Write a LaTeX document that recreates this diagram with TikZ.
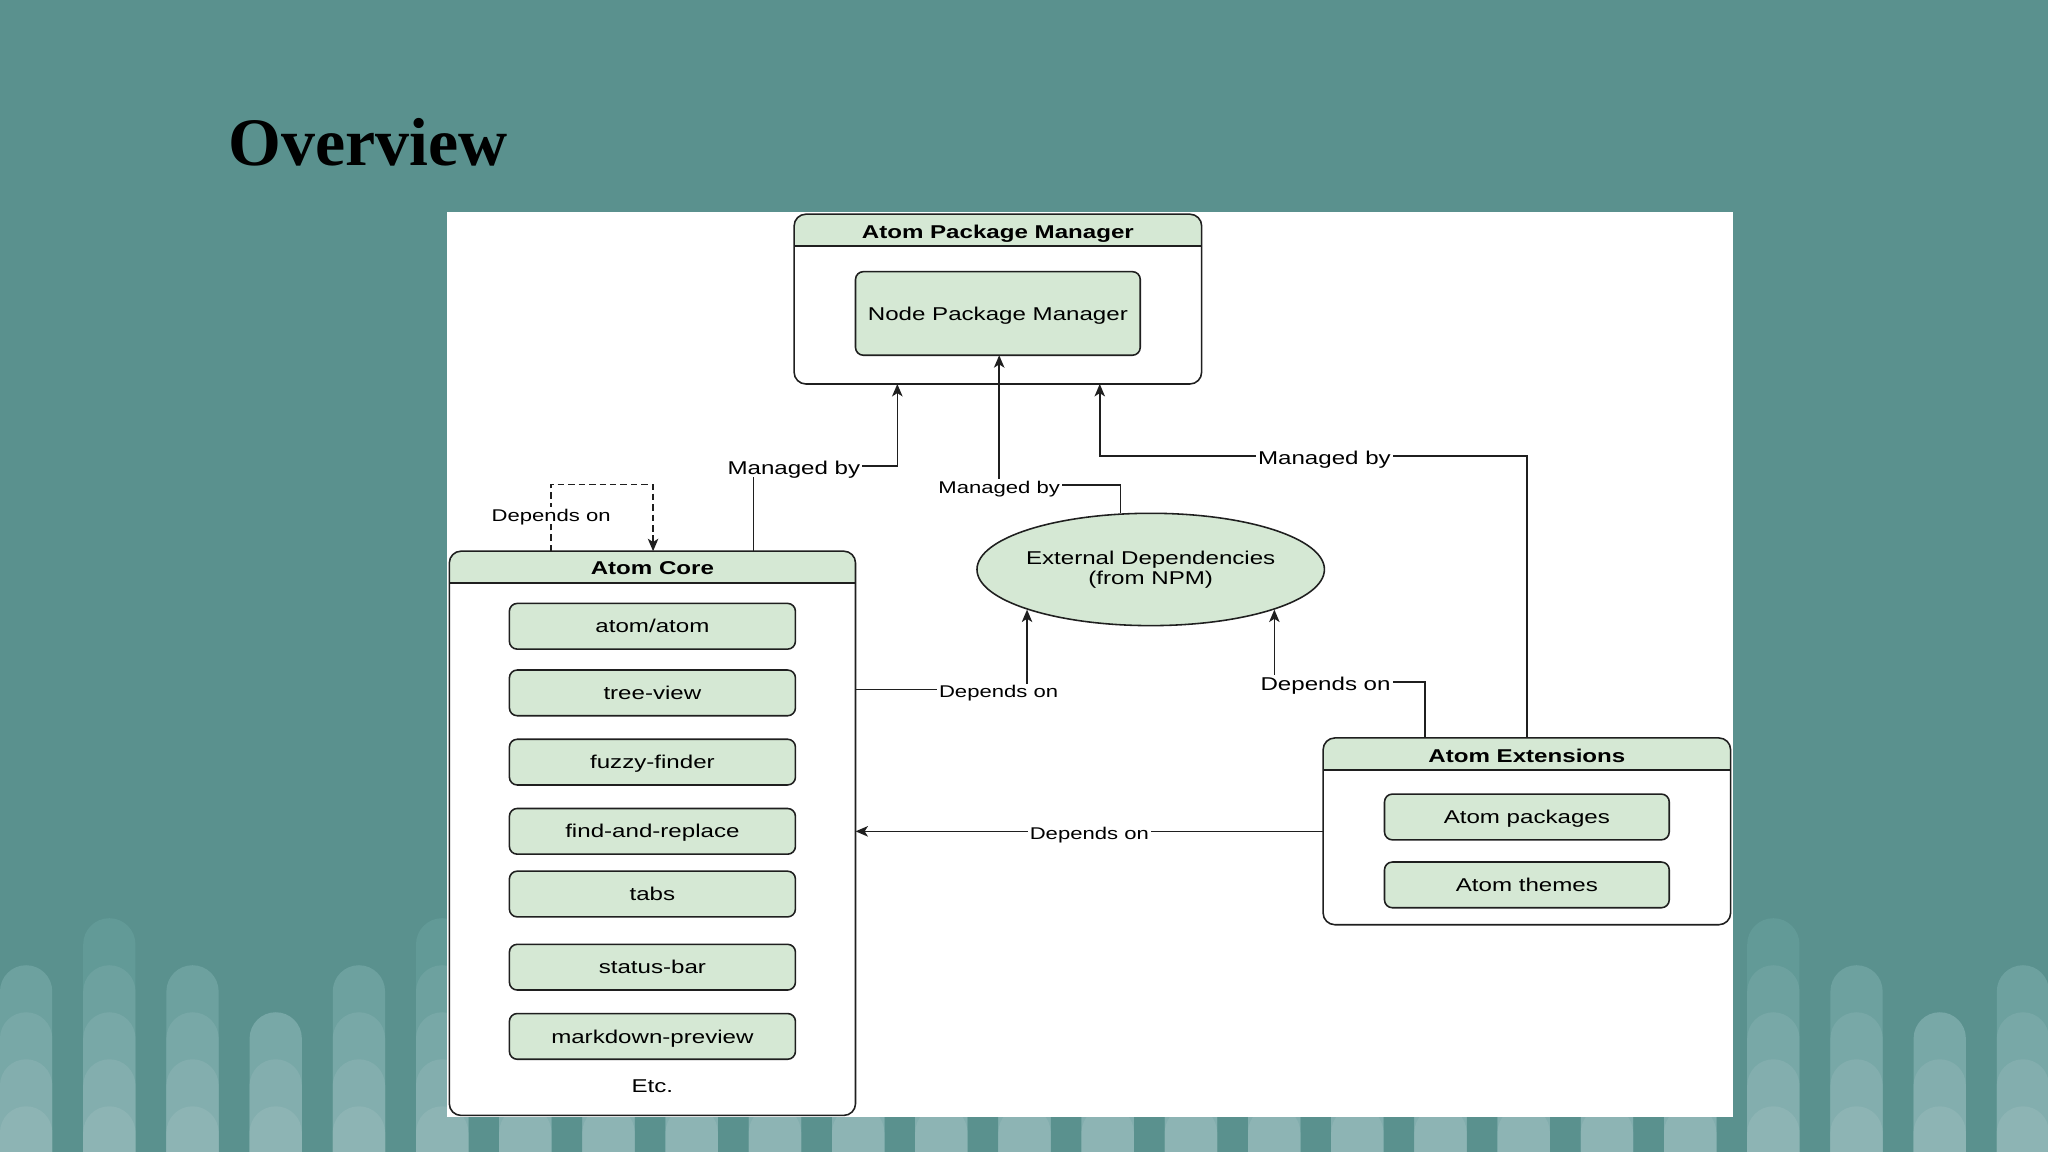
\documentclass[tikz,border=0pt]{standalone}
\usepackage{fontspec}
\usepackage{xcolor}
\usepackage{tikz}
\usetikzlibrary{arrows.meta, positioning, shapes.geometric}

\newfontfamily\diagfont[FakeStretch=1.3]{Liberation Sans}
\newfontfamily\titlefont{Liberation Serif}

\definecolor{slidebg}{HTML}{5A918E}
\definecolor{boxfill}{HTML}{D5E8D4}
\definecolor{edge}{HTML}{1F1F1F}
\definecolor{bar1}{HTML}{629A97}
\definecolor{bar2}{HTML}{6DA19F}
\definecolor{bar3}{HTML}{78A8A7}
\definecolor{bar4}{HTML}{83AEAE}
\definecolor{bar5}{HTML}{8DB4B4}

\begin{document}
\begin{tikzpicture}[
    x=1pt, y=1pt,
    lane/.style={
        draw=edge,
        fill=white,
        line width=1.2pt,
        rounded corners=9pt,
        minimum width=312pt,
        inner sep=0pt,
        outer sep=0pt,
        path picture={
            \fill[boxfill, sharp corners] (path picture bounding box.north west)
                rectangle ([yshift=-24.5pt]path picture bounding box.north east);
            \draw[edge, line width=1.2pt, sharp corners]
                ([yshift=-24.5pt]path picture bounding box.north west)
                -- ([yshift=-24.5pt]path picture bounding box.north east);
        }
    },
    lanehead/.style={
        anchor=base,
        font=\diagfont\bfseries\fontsize{14.2}{16}\selectfont,
        inner sep=0pt
    },
    item/.style={
        draw=edge,
        fill=boxfill,
        line width=1.2pt,
        rounded corners=6pt,
        minimum width=219pt,
        minimum height=35pt,
        outer sep=0pt,
        text height=10.2pt,
        text depth=0pt,
        font=\diagfont\fontsize{14.2}{16}\selectfont
    },
    lbl/.style={
        fill=white,
        inner sep=1.5pt,
        text height=10pt,
        text depth=0pt,
        yshift=-1.5pt,
        font=\diagfont\fontsize{14.2}{16}\selectfont
    },
    lblsm/.style={
        lbl,
        text height=9.3pt,
        font=\diagfont\fontsize{13}{15}\selectfont
    },
    arrow/.style={
        -{Stealth[length=9.5pt, width=8pt, inset=2.5pt]},
        draw=edge,
        line width=1.2pt
    }
]

\useasboundingbox (0,0) rectangle (1568,882);
\fill[slidebg] (0,0) rectangle (1568,882);

% bars at the foot of the slide
\foreach \k in {0,...,24}{
    \pgfmathtruncatemacro{\firstlv}{{2,1,2,3}[mod(\k,4)]}
    \foreach \lv in {\firstlv,...,5}{
        \fill[bar\lv, rounded corners=20pt]
            ({63.7*\k},-25) rectangle ({63.7*\k+40},{215-36*\lv});
    }
}

\node[anchor=base west, inner sep=0pt,
      font=\titlefont\bfseries\fontsize{52}{60}\selectfont] (title) at (175,755) {Overview};

\fill[white] (342,27) rectangle (1327,720);

% containers
\node[lane, minimum height=130pt] (apm) at (764,653) {};
\node[lanehead] (apmhead) at ([yshift=-18.5pt]apm.north) {Atom Package Manager};
\node[item, minimum width=218pt, minimum height=64pt, below=44pt of apm.north] (npm)
{Node Package Manager};

\node[lane, minimum width=311pt, minimum height=432pt] (core) at (499.5,244) {};
\node[lanehead] (corehead) at ([yshift=-18pt]core.north) {Atom Core};

\node[item, below=40pt of core.north] (atom) {atom/atom};
\node[item, below=16pt of atom] (treeview) {tree-view};
\node[item, below=18pt of treeview] (fuzzy) {fuzzy-finder};
\node[item, below=18pt of fuzzy] (findrepl) {find-and-replace};
\node[item, below=13pt of findrepl] (tabs) {tabs};
\node[item, below=21pt of tabs] (statusbar) {status-bar};
\node[item, below=18pt of statusbar] (mdpreview) {markdown-preview};
\node[below=12pt of mdpreview, inner sep=3pt, text height=10.2pt, text depth=0pt,
      font=\diagfont\fontsize{14.2}{16}\selectfont] (etc) {Etc.};

\node[lane, minimum height=143pt] (ext) at (1169,245.5) {};
\node[lanehead] (exthead) at ([yshift=-18.5pt]ext.north) {Atom Extensions};

\node[item, minimum width=218pt, below=43pt of ext.north] (pkgs) {Atom packages};
\node[item, minimum width=218pt, below=17pt of pkgs] (themes) {Atom themes};

\node[ellipse, draw=edge, fill=boxfill, line width=1.2pt,
      inner xsep=-6pt, inner ysep=0pt,
      minimum width=266pt, minimum height=86pt, align=center,
      font=\diagfont\fontsize{14.2}{15}\selectfont] (deps) at (881,446)
{External Dependencies\\(from NPM)};

% connectors
\draw[arrow, dashed, dash pattern=on 5pt off 3pt] ([xshift=-77.5pt]core.north)
    -- node[lblsm, pos=0.57] {Depends on} ++(0,51) -| ([xshift=0.5pt]core.north);

\draw[arrow] ([xshift=77.5pt]core.north) -- ++(0,65)
    -| node[lbl, pos=0.14] {Managed by} ([xshift=-77pt]apm.south);

\draw[arrow] ([xshift=-23pt]deps.north) -- ++(0,21)
    -| node[lblsm, pos=0.5] {Managed by} ([xshift=1pt]npm.south);

\draw[arrow] (ext.north) -- ++(0,216)
    -| node[lbl, pos=0.237] {Managed by} ([xshift=78pt]apm.south);

\draw[arrow] ([yshift=110pt]core.east)
    -| node[lblsm, pos=0.417] {Depends on} (deps.198);

\draw[arrow] ([xshift=-78pt]ext.north) -- ++(0,43)
    -| node[lbl, pos=0.33] {Depends on} (deps.342);

\draw[arrow] (ext.west) -- node[lblsm] {Depends on} (core.east |- ext.west);

\end{tikzpicture}
\end{document}
